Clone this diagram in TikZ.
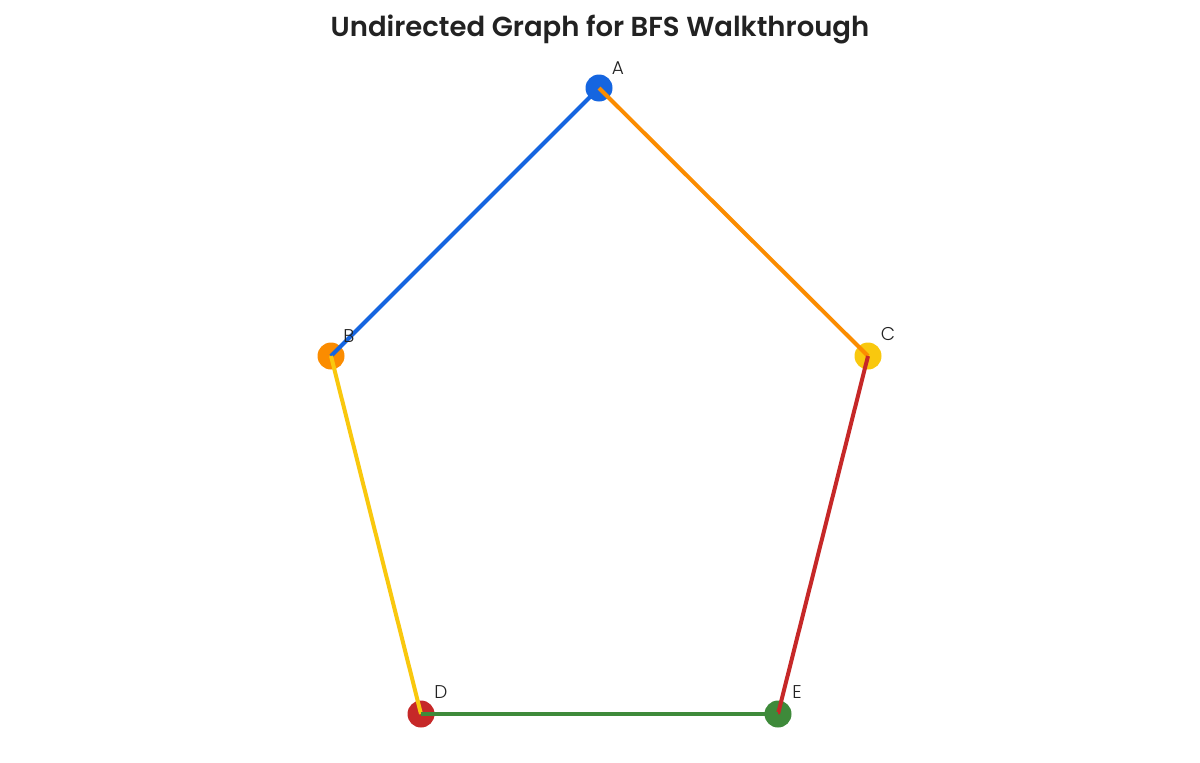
\documentclass[tikz,border=0pt]{standalone}
\usepackage{fontspec}
\setmainfont{Poppins}
\newfontfamily\lightfont{Poppins Light}
\newfontfamily\titlefont{Poppins SemiBold}
\definecolor{cblue}{HTML}{1565E0}
\definecolor{corange}{HTML}{FB8C00}
\definecolor{cyellow}{HTML}{F9C80E}
\definecolor{cred}{HTML}{C62828}
\definecolor{cgreen}{HTML}{3E8A3A}
\definecolor{ctext}{HTML}{222222}
\tikzset{
  vert/.style={circle, minimum size=27pt, inner sep=0pt, fill=#1},
  vlabel/.style={font=\lightfont\fontsize{18.5}{18.5}\selectfont, text=ctext, inner sep=0pt},
  edge/.style={draw=#1, line width=4pt},
}
\begin{document}
\begin{tikzpicture}[x=1pt,y=-1pt]
\useasboundingbox (0,0) rectangle (1200,763);
\node[font=\titlefont\fontsize{27.5}{27.5}\selectfont, text=ctext] (title) at (600,29) {Undirected Graph for BFS Walkthrough};
\node[vert=cblue] (A) at (599,88) {};
\node[vert=corange] (B) at (331,356) {};
\node[vert=cyellow] (C) at (868,356) {};
\node[vert=cred] (D) at (421,714) {};
\node[vert=cgreen] (E) at (778,714) {};
\draw[edge=cblue] (A.center) -- (B.center);
\draw[edge=corange] (A.center) -- (C.center);
\draw[edge=cyellow] (B.center) -- (D.center);
\draw[edge=cred] (C.center) -- (E.center);
\draw[edge=cgreen] (D.center) -- (E.center);
\node[vlabel] (lA) at (618,68) {A};
\node[vlabel] (lB) at (349,336) {B};
\node[vlabel] (lC) at (888,334) {C};
\node[vlabel] (lD) at (441,692) {D};
\node[vlabel] (lE) at (797,692) {E};
\end{tikzpicture}
\end{document}
